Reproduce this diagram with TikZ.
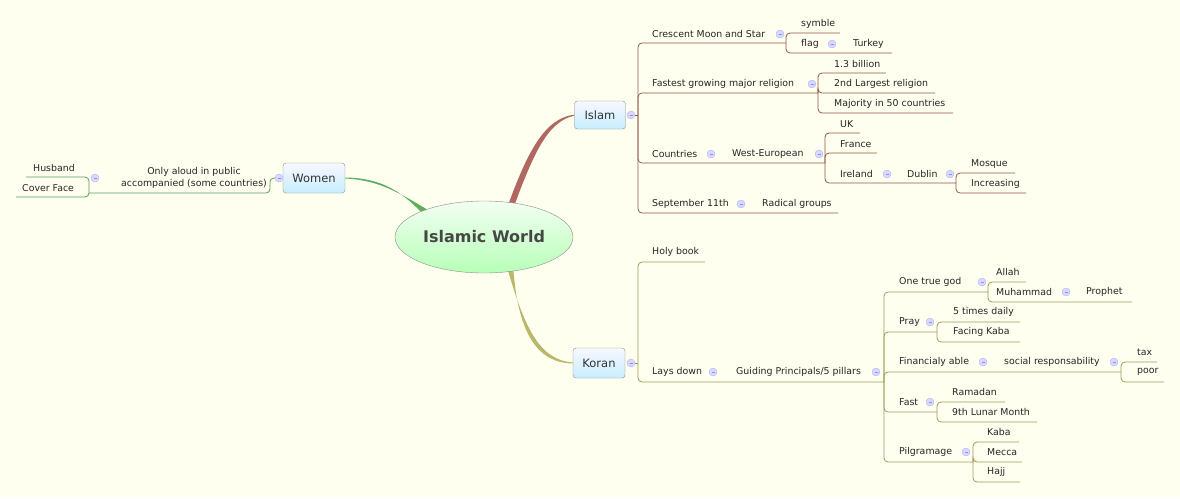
\documentclass[tikz,border=0pt]{standalone}
\usepackage{fontspec}
\setmainfont{DejaVu Sans}
\usetikzlibrary{shapes.geometric}
\begin{document}
\begin{tikzpicture}[x=1pt,y=-1pt,
  txt/.style={inner sep=0pt,anchor=west,font=\fontsize{9.4}{11}\selectfont,text=black!85},
  box/.style={draw=black!45,rounded corners=3pt,top color=blue!3,bottom color=blue!30!cyan!22,inner sep=0pt,font=\fontsize{11.5}{13}\selectfont,text=black!80},
  cb/.style={circle,draw=blue!30,fill=blue!15,minimum size=8pt,inner sep=0pt,path picture={\draw[blue!45,line width=0.4pt](path picture bounding box.west)++(2.5pt,0)--++(3pt,0);}},
  ln/.style={line width=0.8pt,rounded corners=4pt}]
\definecolor{bg}{HTML}{FFFFF0}
\definecolor{cI}{HTML}{8E5848}
\definecolor{cK}{HTML}{9C9C58}
\definecolor{cW}{HTML}{5A9E5A}
\definecolor{bI}{HTML}{B06860}
\definecolor{bK}{HTML}{B8B868}
\definecolor{bW}{HTML}{5EAE5E}
\fill[bg] (0,0) rectangle (1180,498);
\useasboundingbox (0,0) rectangle (1180,498);
\newcommand\tp[4]{\node[txt] (#1) at (#2,#3) {#4};}
\newcommand\cc[2]{\node[cb] at (#1,#2) {};}
% central branches
\fill[bI] (507,208) .. controls (528,150) and (545,118) .. (575,114.5) -- (575,115.5) .. controls (548,121) and (534,152) .. (513,209) -- cycle;
\fill[bK] (507,267) .. controls (525,330) and (540,360) .. (573,362.5) -- (573,363.5) .. controls (538,363) and (518,335) .. (513,266) -- cycle;
\fill[bW] (422,213) .. controls (400,190) and (380,178) .. (345,177.5) -- (345,178.5) .. controls (378,180) and (398,192) .. (428,210) -- cycle;
% center
\node[ellipse,draw=black!45,top color=green!5,bottom color=green!28,minimum width=178pt,minimum height=72pt,inner sep=0pt,font=\bfseries\fontsize{16}{18}\selectfont,text=black!72] (root) at (484,237) {Islamic World};
% ===== Islam
\node[box,minimum width=51pt,minimum height=28pt] (islam) at (600,115) {Islam};
\cc{631}{115}
\begin{scope}[cI]
\draw[ln] (635,115)--(638,115);
\foreach \y/\e in {43/786,93/818,163/825,213/838} \draw[ln] (638,115) |- (\e,\y);
\tp{cms}{652}{34}{Crescent Moon and Star}\cc{780}{34}
\tp{fgm}{652}{84}{Fastest growing major religion}\cc{812}{84}
\tp{cty}{652}{154}{Countries}\cc{711}{154}\tp{we}{732}{154}{West-European}\cc{819}{154}
\tp{s11}{652}{204}{September 11th}\cc{741}{204}\tp{rg}{762}{204}{Radical groups}
\draw[ln] (786,43) |- (840,33); \draw[ln] (786,43) |- (892,53);
\tp{sy}{801}{24}{symble}\tp{fl}{801}{44}{flag}\cc{832}{44}\tp{tu}{853}{44}{Turkey}
\draw[ln] (818,93) |- (886,73); \draw[ln] (818,93) |- (935,93); \draw[ln] (818,93) |- (953,113);
\tp{b13}{834}{64}{1.3 billion}\tp{l2}{834}{84}{2nd Largest religion}\tp{m50}{834}{104}{Majority in 50 countries}
\draw[ln] (825,163) |- (860,133); \draw[ln] (825,163) |- (877,153); \draw[ln] (825,163) |- (956,183);
\tp{uk}{840}{124}{UK}\tp{fr}{840}{144}{France}\tp{ir}{840}{174}{Ireland}\cc{887}{174}\tp{du}{907}{174}{Dublin}\cc{950}{174}
\draw[ln] (956,183) |- (1015,173); \draw[ln] (956,183) |- (1026,193);
\tp{mo}{971}{164}{Mosque}\tp{inc}{971}{184}{Increasing}
\end{scope}
% ===== Koran
\node[box,minimum width=52pt,minimum height=30pt] (koran) at (599,363) {Koran};
\cc{631}{363}
\begin{scope}[cK]
\draw[ln] (635,363)--(638,363);
\draw[ln] (638,363) |- (705,262); \draw[ln] (638,363) |- (884,382);
\tp{hb}{652}{252}{Holy book}
\tp{ld}{652}{372}{Lays down}\cc{713}{372}\tp{gp}{736}{372}{Guiding Principals/5 pillars}\cc{876}{372}
\foreach \y/\e in {292/988,332/937,372/1121,412/937,462/973} \draw[ln] (884,382) |- (\e,\y);
\tp{otg}{899}{282}{One true god}\cc{982}{282}
\tp{pr}{899}{322}{Pray}\cc{930}{322}
\tp{fa}{899}{362}{Financialy able}\cc{983}{362}\tp{sr}{1004}{362}{social responsability}\cc{1114}{362}
\tp{fs}{899}{402}{Fast}\cc{930}{402}
\tp{pg}{899}{452}{Pilgramage}\cc{966}{452}
\draw[ln] (988,292) |- (1026,282); \draw[ln] (988,292) |- (1132,302);
\tp{al}{996}{272}{Allah}\tp{mu}{996}{292}{Muhammad}\cc{1066}{292}\tp{pp}{1086}{292}{Prophet}
\draw[ln] (937,332) |- (1020,322); \draw[ln] (937,332) |- (1020,342);
\tp{t5}{953}{312}{5 times daily}\tp{fk}{953}{332}{Facing Kaba}
\draw[ln] (1121,372) |- (1157,362); \draw[ln] (1121,372) |- (1164,382);
\tp{tx}{1137}{352}{tax}\tp{po}{1137}{372}{poor}
\draw[ln] (937,412) |- (1005,402); \draw[ln] (937,412) |- (1037,422);
\tp{ra}{952}{392}{Ramadan}\tp{lm}{952}{412}{9th Lunar Month}
\draw[ln] (973,462) |- (1019,442); \draw[ln] (973,462) |- (1022,462); \draw[ln] (973,462) |- (1020,482);
\tp{kb}{987}{432}{Kaba}\tp{me}{987}{452}{Mecca}\tp{ha}{987}{472}{Hajj}
\end{scope}
% ===== Women
\node[box,minimum width=62pt,minimum height=30pt] (women) at (314,178) {Women};
\cc{279}{178}
\begin{scope}[cW]
\draw[ln] (275,178)--(270,178) |- (89,193);
\node[txt,anchor=center,align=center,font=\fontsize{9.4}{12}\selectfont] (oa) at (194,178) {Only aloud in public\\accompanied (some countries)};
\cc{95}{178}
\draw[ln] (89,193) |- (26,177); \draw[ln] (89,193) |- (16,197);
\tp{hu}{33}{168}{Husband}\tp{cf}{22}{188}{Cover Face}
\end{scope}
\end{tikzpicture}
\end{document}
